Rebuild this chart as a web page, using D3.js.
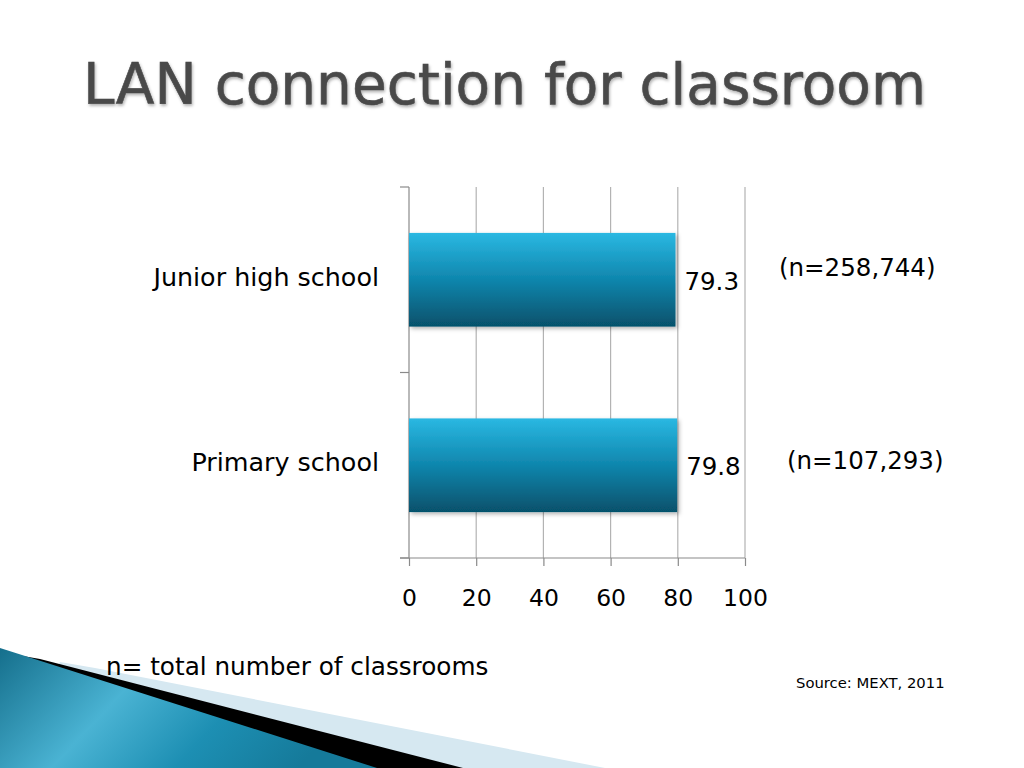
<!DOCTYPE html>
<html><head><meta charset="utf-8">
<script src="https://cdn.jsdelivr.net/npm/d3@7"></script>
<style>body{margin:0;background:#fff}svg{display:block}</style>
</head><body>
<svg id="c" width="1024" height="768"></svg>
<script>
const categories = ["Junior high school", "Primary school"];
const values = [79.3, 79.8];
const nLabels = ["(n=258,744)", "(n=107,293)"];
const xTicks = [0, 20, 40, 60, 80, 100];
const title = "LAN connection for classroom";
const note = "n= total number of classrooms";
const source = "Source: MEXT, 2011";

const svg = d3.select("#c");
const F = "'DejaVu Sans', Verdana, sans-serif";
const defs = svg.append("defs");

const bg = defs.append("linearGradient").attr("id","barG").attr("x1",0).attr("y1",0).attr("x2",0).attr("y2",1);
bg.append("stop").attr("offset","0%").attr("stop-color","#2ab8e2");
bg.append("stop").attr("offset","50%").attr("stop-color","#0f86ad");
bg.append("stop").attr("offset","100%").attr("stop-color","#06516b");

const dg = defs.append("linearGradient").attr("id","decoG").attr("x1",0).attr("y1",0).attr("x2",1).attr("y2",0.3);
dg.append("stop").attr("offset","0%").attr("stop-color","#156f8c");
dg.append("stop").attr("offset","40%").attr("stop-color","#4ab3d3");
dg.append("stop").attr("offset","70%").attr("stop-color","#1d8fb3");
dg.append("stop").attr("offset","100%").attr("stop-color","#157a9a");

const sh = defs.append("filter").attr("id","sh").attr("x","-5%").attr("y","-10%").attr("width","115%").attr("height","130%");
sh.append("feDropShadow").attr("dx",2).attr("dy",2).attr("stdDeviation",2).attr("flood-color","#000").attr("flood-opacity",0.3);
const tsh = defs.append("filter").attr("id","tsh");
tsh.append("feDropShadow").attr("dx",1).attr("dy",2).attr("stdDeviation",1.5).attr("flood-color","#000").attr("flood-opacity",0.3);

// decoration bottom-left
svg.append("path").attr("d","M60,662 L95,668 L605,768 L0,768 Z").attr("fill","#d6e8f1");
svg.append("path").attr("d","M0,652 L40,659 L463,768 L0,768 Z").attr("fill","#000");
svg.append("path").attr("d","M0,648 L377,768 L0,768 Z").attr("fill","url(#decoG)");

// title
svg.append("text").attr("x",504.5).attr("y",104).attr("text-anchor","middle")
  .attr("font-family",F).attr("font-size",56.5).attr("fill","#4a4a4a").attr("filter","url(#tsh)")
  .attr("stroke","#4a4a4a").attr("stroke-width",0.6).text(title);

const m = {l:409, r:745, t:187, b:558};
const x = d3.scaleLinear().domain([0,100]).range([m.l, m.r]);
const y = d3.scaleBand().domain(categories).range([m.t, m.b]).paddingInner(0.495).paddingOuter(0.2475);

// grid
svg.append("g").selectAll("line").data(xTicks.filter(d=>d>0)).join("line")
  .attr("x1",d=>x(d)).attr("x2",d=>x(d)).attr("y1",m.t).attr("y2",m.b)
  .attr("stroke","#b3b3b3").attr("stroke-width",1.2);

// bottom axis
const ax = svg.append("g").attr("transform",`translate(0,${m.b})`)
  .call(d3.axisBottom(x).tickValues(xTicks).tickSize(8).tickSizeOuter(0).tickPadding(23));
ax.select(".domain").remove();
ax.selectAll(".tick line").attr("stroke","#8a8a8a").attr("stroke-width",1.2);
ax.selectAll(".tick text").attr("font-family",F).attr("font-size",23.5).attr("fill","#000");
svg.append("line").attr("x1",m.l-9).attr("x2",m.r).attr("y1",m.b).attr("y2",m.b).attr("stroke","#8a8a8a").attr("stroke-width",1.2);

// left axis
svg.append("line").attr("x1",m.l).attr("x2",m.l).attr("y1",m.t).attr("y2",m.b).attr("stroke","#8a8a8a").attr("stroke-width",1.2);
const bounds = [m.t, m.t + (m.b-m.t)/2, m.b];
svg.append("g").selectAll("line").data(bounds).join("line")
  .attr("x1",m.l-9).attr("x2",m.l).attr("y1",d=>d).attr("y2",d=>d)
  .attr("stroke","#8a8a8a").attr("stroke-width",1.2);

// bars
svg.append("g").selectAll("rect").data(values).join("rect")
  .attr("x",x(0)).attr("y",(d,i)=>y(categories[i])).attr("width",d=>x(d)-x(0)).attr("height",y.bandwidth())
  .attr("fill","url(#barG)").attr("filter","url(#sh)");

// value labels
svg.append("g").selectAll("text").data(values).join("text")
  .attr("x",d=>x(d)+9).attr("y",(d,i)=>y(categories[i])+y.bandwidth()/2+10)
  .attr("font-family",F).attr("font-size",24.5).attr("fill","#000").text(d=>d.toFixed(1));

// category labels
svg.append("g").selectAll("text").data(categories).join("text")
  .attr("x",m.l-30).attr("y",d=>y(d)+y.bandwidth()/2+6).attr("text-anchor","end")
  .attr("font-family",F).attr("font-size",25.4).attr("fill","#000").text(d=>d);

// n labels
const nOffX = [34, 42], nOffY = [-4, 4];
svg.append("g").selectAll("text").data(nLabels).join("text")
  .attr("x",(d,i)=>x(100)+nOffX[i]).attr("y",(d,i)=>y(categories[i])+y.bandwidth()/2+nOffY[i])
  .attr("font-family",F).attr("font-size",24.5).attr("fill","#000").text(d=>d);

svg.append("text").attr("x",106).attr("y",675).attr("font-family",F).attr("font-size",24.7).attr("fill","#000").text(note);
svg.append("text").attr("x",796).attr("y",688).attr("font-family",F).attr("font-size",14.8).attr("fill","#000").text(source);
</script>
</body></html>
